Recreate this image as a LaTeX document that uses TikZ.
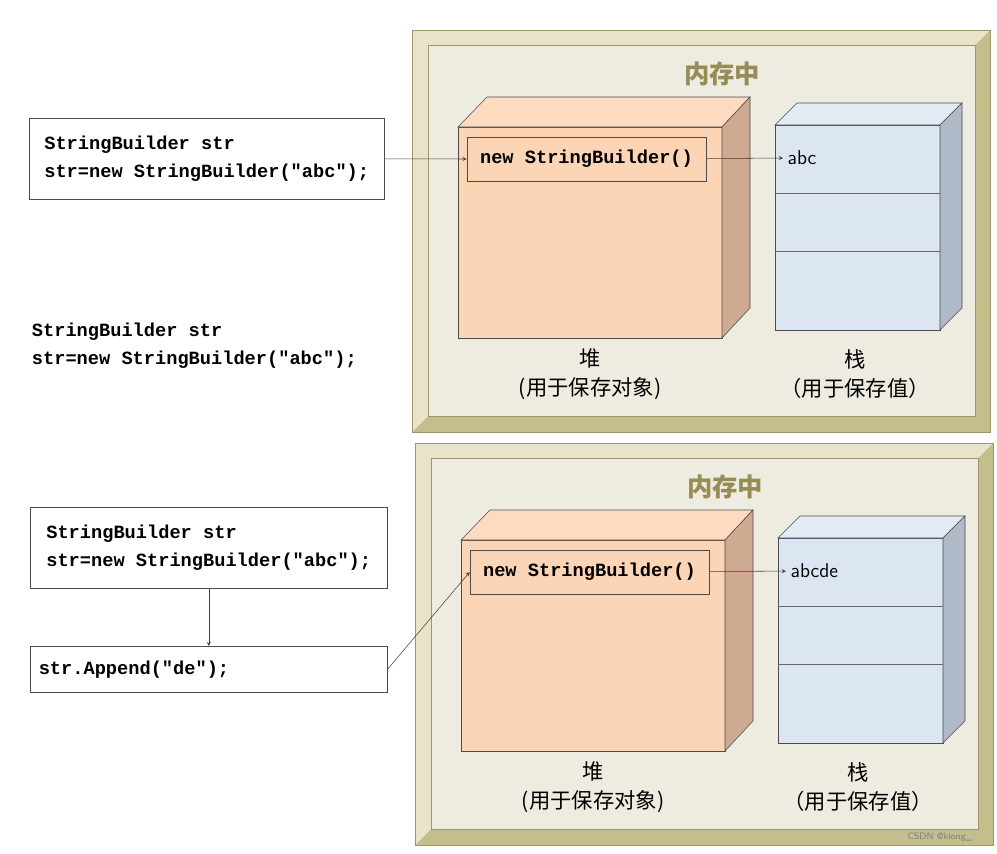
\documentclass[tikz,border=0pt]{standalone}
\usepackage{fontspec}
\setmonofont{Liberation Mono}
\newfontfamily\cjk{Noto Sans CJK SC}
\definecolor{heapfront}{RGB}{251,213,181}
\definecolor{heapside}{RGB}{205,170,145}
\definecolor{stackfront}{RGB}{220,230,242}
\definecolor{stackside}{RGB}{175,185,200}
\definecolor{panelbg}{RGB}{238,236,225}
\definecolor{bevellight}{RGB}{232,228,200}
\definecolor{beveldark}{RGB}{196,189,140}
\definecolor{titlecol}{RGB}{150,140,85}
\tikzset{
  code/.style={draw=black!70,fill=white,align=left,font=\ttfamily\bfseries\fontsize{14}{21}\selectfont,inner sep=2pt},
  cjklabel/.style={font=\cjk\fontsize{16}{22}\selectfont,align=center},
  link/.style={->,draw=black!75,>=stealth}
}
\begin{document}
\begin{tikzpicture}[x=0.75pt,y=-0.75pt]
\useasboundingbox (0,0) rectangle (997,854);
\fill[white] (0,0) rectangle (997,854);

\foreach \dx/\dy/\val/\tag in {0/0/abc/a,3/413/abcde/b}{
\begin{scope}[shift={(\dx,\dy)}]
% frame
\fill[beveldark] (412,30) rectangle (990,432);
\fill[bevellight] (412,30) -- (990,30) -- (975,45) -- (428,45) -- (428,416) -- (412,432) -- cycle;
\fill[panelbg] (428,45) rectangle (975,416);
\draw[beveldark!80!black,very thin] (412,30) rectangle (990,432) (428,45) rectangle (975,416);
\node[font=\cjk\bfseries\fontsize{19}{22}\selectfont,text=titlecol] (title\tag) at (722,74) {内存中};
% heap
\filldraw[fill=heapfront,draw=black!70] (458,127) rectangle (722,338);
\filldraw[fill=heapfront!85!white,draw=black!70] (458,127) -- (487,97) -- (750,97) -- (722,127) -- cycle;
\filldraw[fill=heapside,draw=black!70] (722,127) -- (750,97) -- (750,308) -- (722,338) -- cycle;
\node[code,minimum width=239*0.75pt,minimum height=44*0.75pt,fill=heapfront,align=center] (obj\tag) at (586.5,159) {new StringBuilder()};
% stack
\filldraw[fill=stackfront,draw=black!70] (775,125) rectangle (940,330);
\filldraw[fill=stackfront!80!white,draw=black!70] (775,125) -- (797,103) -- (962,103) -- (940,125) -- cycle;
\filldraw[fill=stackside,draw=black!70] (940,125) -- (962,103) -- (962,308) -- (940,330) -- cycle;
\draw[black!60] (775,193) -- (940,193) (775,251) -- (940,251);
\node[anchor=west,font=\fontfamily{lmss}\fontsize{15}{18}\selectfont\sffamily] (val\tag) at (783,158) {\val};
\draw[link] (obj\tag) -- (val\tag);
% captions
\node[cjklabel] (heap\tag) at (590,374) {堆\\(用于保存对象)};
\node[cjklabel] (stack\tag) at (855,374) {栈\\（用于保存值）};
\end{scope}
}

% code, first panel
\node[code,anchor=north west,minimum width=355*0.75pt,minimum height=81*0.75pt] (decl) at (29,118) {StringBuilder str\\str=new StringBuilder("abc");};
\draw[link] (decl.east) -- (obja.west);
\node[code,draw=none,fill=none,anchor=north west] (plain) at (29,320) {StringBuilder str\\str=new StringBuilder("abc");};

% code, second panel
\node[code,anchor=north west,minimum width=357*0.75pt,minimum height=81*0.75pt] (declb) at (30,507) {StringBuilder str\\str=new StringBuilder("abc");};
\node[code,anchor=north west,minimum width=357*0.75pt,minimum height=46*0.75pt,text width=340*0.75pt] (append) at (30,646) {str.Append("de");};
\draw[link] (declb) -- (append);
\draw[link] (append.east) -- (objb.west);

\node[font=\sffamily\fontsize{7}{8}\selectfont,text=black!50] (mark) at (940,837) {CSDN @kiong\_};
\end{tikzpicture}
\end{document}
